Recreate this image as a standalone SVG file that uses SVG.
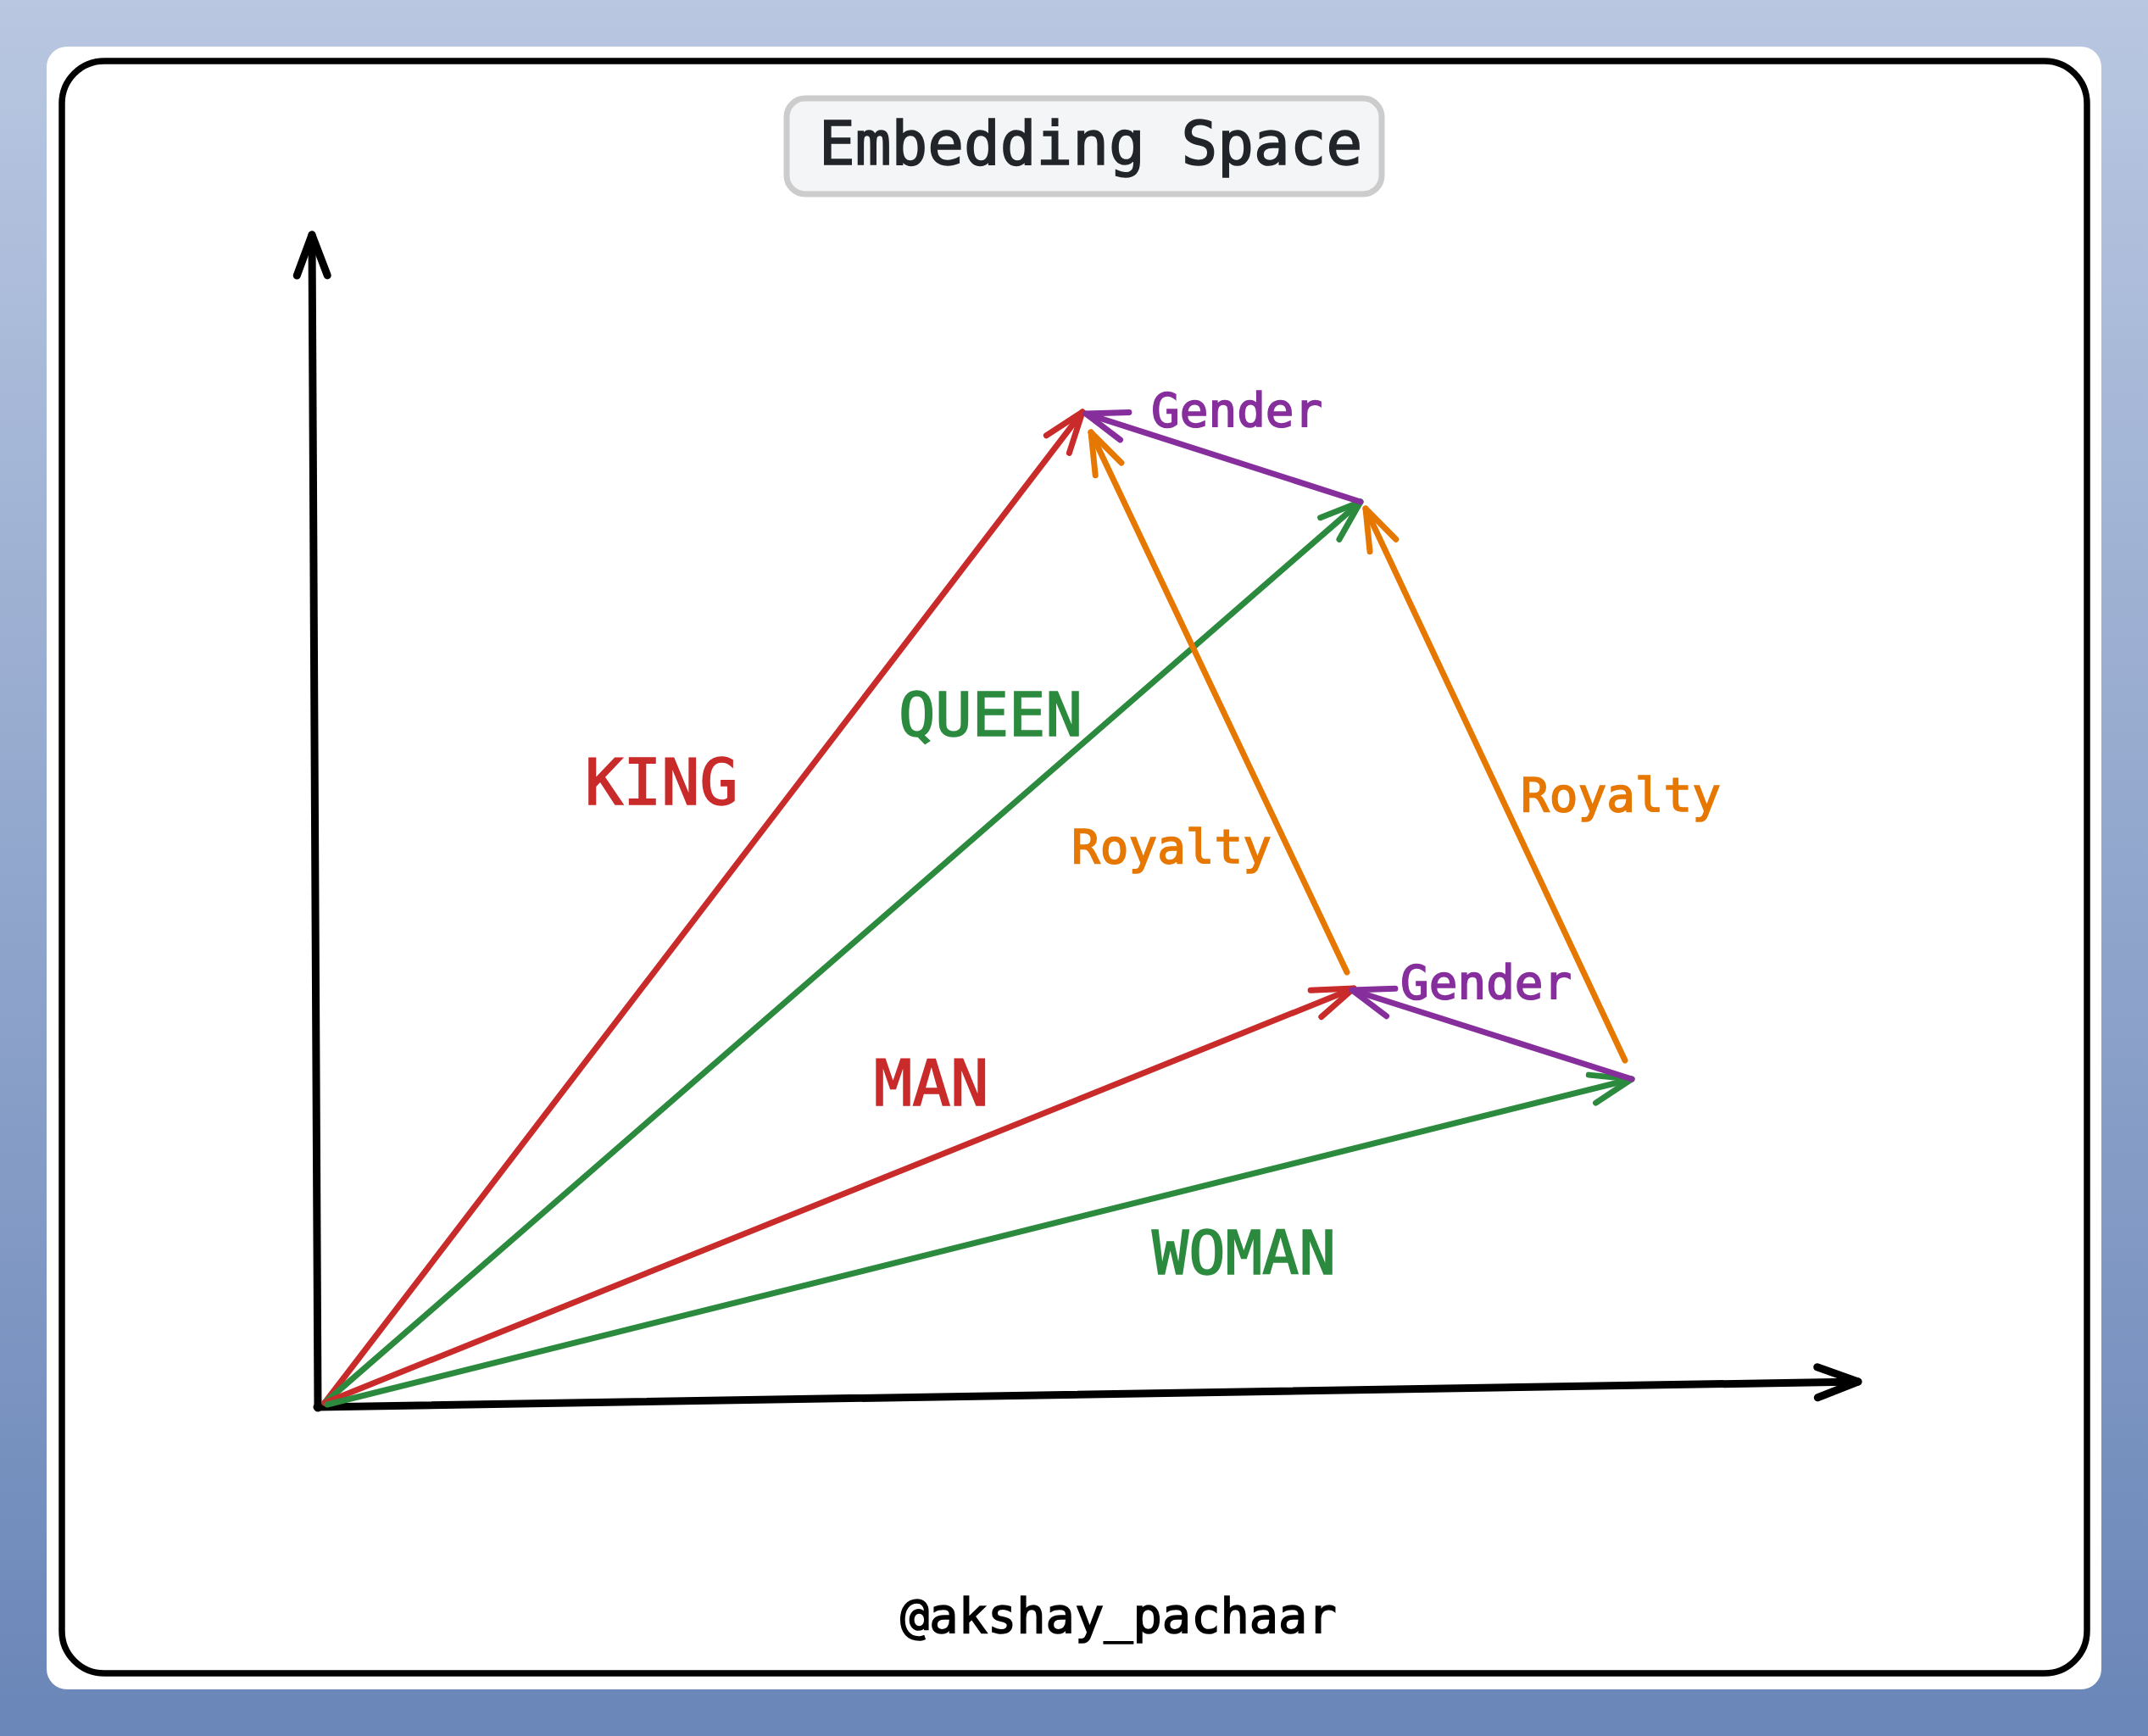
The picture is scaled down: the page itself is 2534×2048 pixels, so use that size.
<svg xmlns="http://www.w3.org/2000/svg" width="2534" height="2048" viewBox="0 0 2534 2048">
<defs>
<linearGradient id="bg" x1="0" y1="0" x2="0" y2="1">
<stop offset="0" stop-color="#b9c7e1"/>
<stop offset="1" stop-color="#6a86b8"/>
</linearGradient>
<marker id="mk" viewBox="-60 -30 70 60" markerWidth="70" markerHeight="60" refX="0" refY="0" orient="auto" markerUnits="userSpaceOnUse" overflow="visible"><path d="M-48,-18 L0,0 L-48,18" fill="none" stroke="#000" stroke-width="9" stroke-linecap="round" stroke-linejoin="round"/></marker>
<marker id="mr" viewBox="-60 -30 70 60" markerWidth="70" markerHeight="60" refX="0" refY="0" orient="auto" markerUnits="userSpaceOnUse" overflow="visible"><path d="M-48,-17 L0,0 L-48,17" fill="none" stroke="#c92a2a" stroke-width="7" stroke-linecap="round" stroke-linejoin="round"/></marker>
<marker id="mg" viewBox="-60 -30 70 60" markerWidth="70" markerHeight="60" refX="0" refY="0" orient="auto" markerUnits="userSpaceOnUse" overflow="visible"><path d="M-48,-17 L0,0 L-48,17" fill="none" stroke="#2b8a3e" stroke-width="7" stroke-linecap="round" stroke-linejoin="round"/></marker>
<marker id="mp" viewBox="-60 -30 70 60" markerWidth="70" markerHeight="60" refX="0" refY="0" orient="auto" markerUnits="userSpaceOnUse" overflow="visible"><path d="M-48,-17 L0,0 L-48,17" fill="none" stroke="#862e9c" stroke-width="7" stroke-linecap="round" stroke-linejoin="round"/></marker>
<marker id="mo" viewBox="-60 -30 70 60" markerWidth="70" markerHeight="60" refX="0" refY="0" orient="auto" markerUnits="userSpaceOnUse" overflow="visible"><path d="M-48,-17 L0,0 L-48,17" fill="none" stroke="#e67700" stroke-width="7" stroke-linecap="round" stroke-linejoin="round"/></marker>
</defs>
<style>
.t{font-family:"DejaVu Sans Mono","Liberation Mono",monospace;stroke-width:1.6;paint-order:stroke;}
.big{font-size:75px;}
.bg2{font-size:72px;}
.sm{font-size:56px;}
.red{fill:#c92a2a;stroke:#c92a2a;}
.grn{fill:#2b8a3e;stroke:#2b8a3e;}
.pur{fill:#862e9c;stroke:#862e9c;}
.org{fill:#e67700;stroke:#e67700;}
.blk{fill:#000;stroke:#000;}
.ln{fill:none;stroke-width:7;stroke-linecap:round;}
.ax{fill:none;stroke:#000;stroke-width:9;stroke-linecap:round;}
</style>
<rect x="0" y="0" width="2534" height="2048" fill="url(#bg)"/>
<rect x="55" y="55" width="2424" height="1938" rx="24" fill="#fff"/>
<rect x="73" y="72" width="2389" height="1902" rx="50" fill="none" stroke="#000" stroke-width="7.5"/>
<g id="title">
<rect x="928" y="116" width="702" height="113" rx="22" fill="#f4f5f7" stroke="#cccccc" stroke-width="7"/>
<text class="t" x="966" y="194" font-size="71" fill="#212529" stroke="#212529">Embedding Space</text>
</g>
<g id="connectors">
<path class="ax" d="M375,1661 L368,277" marker-end="url(#mk)"/>
<path class="ax" d="M374,1660 L2192,1630" marker-end="url(#mk)"/>
<path class="ln" stroke="#c92a2a" d="M383,1655 L1277,486" marker-end="url(#mr)"/>
<path class="ln" stroke="#2b8a3e" d="M383,1655 L1605,592" marker-end="url(#mg)"/>
<path class="ln" stroke="#c92a2a" d="M383,1655 L1597,1166" marker-end="url(#mr)"/>
<path class="ln" stroke="#2b8a3e" d="M386,1657 L1925,1273" marker-end="url(#mg)"/>
<path class="ln" stroke="#862e9c" d="M1605,592 L1281,488" marker-end="url(#mp)"/>
<path class="ln" stroke="#862e9c" d="M1925,1273 L1595,1168" marker-end="url(#mp)"/>
<path class="ln" stroke="#e67700" d="M1589,1147 L1287,510" marker-end="url(#mo)"/>
<path class="ln" stroke="#e67700" d="M1917,1251 L1611,600" marker-end="url(#mo)"/>
</g>
<g id="king"><text class="t big red" x="690" y="949">KING</text></g>
<g id="queen"><text class="t bg2 grn" x="1060" y="868">QUEEN</text></g>
<g id="man"><text class="t big red" x="1031" y="1304">MAN</text></g>
<g id="woman"><text class="t bg2 grn" x="1359" y="1503">WOMAN</text></g>
<g id="gender-top"><text class="t sm pur" x="1358" y="503">Gender</text></g>
<g id="gender-bottom"><text class="t sm pur" x="1652" y="1178">Gender</text></g>
<g id="royalty-left"><text class="t sm org" x="1264" y="1018">Royalty</text></g>
<g id="royalty-right"><text class="t sm org" x="1794" y="957">Royalty</text></g>
<g id="footer"><text class="t blk" x="1062" y="1926" font-size="57">@akshay_pachaar</text></g>
</svg>
